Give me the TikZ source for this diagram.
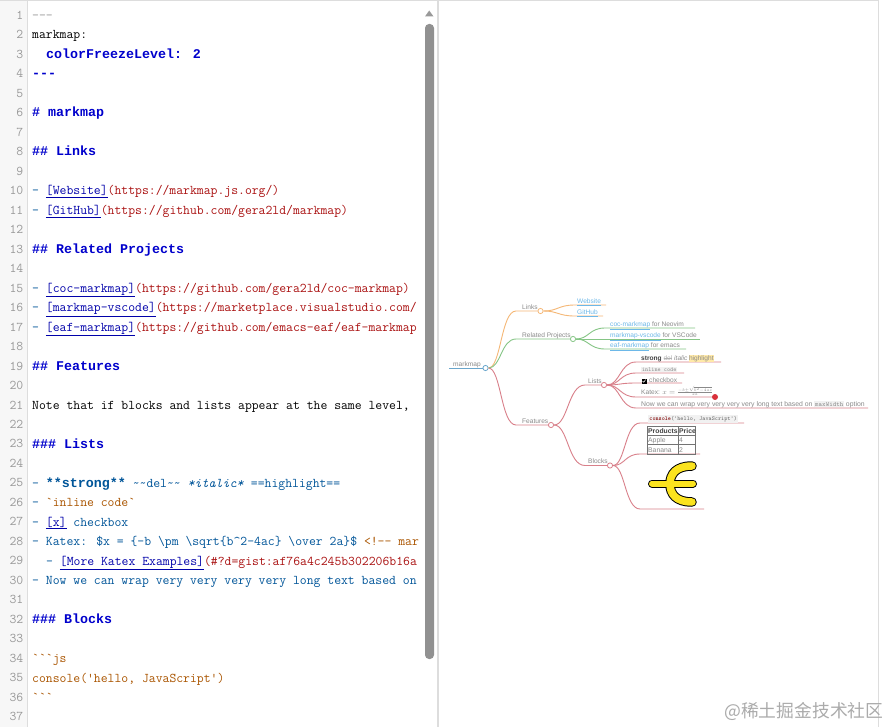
\documentclass[tikz,border=0pt]{standalone}
\usepackage{fontspec}
\usepackage{graphicx}
\setmainfont{Liberation Sans}
\newfontfamily\cjkwm{Noto Sans CJK SC}
\newfontfamily\bdmono{Liberation Mono}
\definecolor{hdr}{HTML}{0000CC}
\definecolor{lnk}{HTML}{0000AA}
\definecolor{url}{HTML}{AA1111}
\definecolor{lst}{HTML}{005599}
\definecolor{cmt}{HTML}{AA5500}
\definecolor{gut}{HTML}{F7F7F7}
\definecolor{bord}{HTML}{DDDDDD}
\definecolor{mmblue}{HTML}{6AA6CC}
\definecolor{mmorange}{HTML}{F5B877}
\definecolor{mmgreen}{HTML}{85C585}
\definecolor{mmred}{HTML}{D9808A}
\definecolor{mmlink}{HTML}{6DB8E8}
\definecolor{mmtext}{HTML}{8A8A8A}
\definecolor{codebg}{HTML}{F1F1F1}
\definecolor{hilite}{HTML}{FFE9A8}
\definecolor{jsyellow}{HTML}{FBE31E}
\definecolor{katred}{HTML}{D9303A}
\newcommand{\rg}{\fontsize{13.33}{14}\selectfont\ttfamily}
\newcommand{\bd}[1]{{\fontsize{13.33}{14}\selectfont\bdmono\bfseries #1}}
\newcommand{\lk}[1]{\textcolor{lnk}{\underline{#1}}}
\newcommand{\ur}[1]{\textcolor{url}{#1}}
\newcommand{\mmc}[1]{\textcolor{mmlink}{\underline{#1}}}
\newcommand{\cod}[2][5.9]{{\setlength{\fboxsep}{0.8pt}\colorbox{codebg}{\fontsize{#1}{6}\selectfont\ttfamily #2}}}
\newlength{\strkw}
\newcommand{\strk}[1]{\settowidth{\strkw}{#1}\rlap{\rule[1.7pt]{\strkw}{0.4pt}}#1}
\tikzset{
  x=1pt,y=-1pt,
  codeline/.style={anchor=base west,inner sep=0pt,font=\rg},
  lineno/.style={anchor=base east,inner sep=0pt,font=\rg,text=black!40},
  mmlabel/.style={anchor=base west,inner sep=0pt,font=\fontsize{6.6}{7}\selectfont,text=mmtext},
  dot/.style={circle,draw,fill=white,inner sep=0pt,minimum size=5.2pt,line width=0.8pt},
  edge/.style={line width=0.9pt},
  tbl/.style={anchor=base west,inner sep=0pt,font=\fontsize{6.8}{7}\selectfont},
}
\newcommand{\cl}[3]{\node[codeline] (c#1) at (32+#2,{15.4+19.49*(#1-1)+4}) {#3};}
\begin{document}
\begin{tikzpicture}
\useasboundingbox (0,0) rectangle (890,727);
\fill[white] (0,0) rectangle (890,727);
% editor chrome
\fill[gut] (0,0) rectangle (27,727);
\draw[bord] (27.5,0) -- (27.5,727);
\draw[bord,line width=1pt] (0,0.5) -- (878,0.5);
\draw[bord,line width=1.4pt] (438,0) -- (438,727);
\draw[bord,line width=0.8pt] (878,0) -- (878,727);
\fill[black!40] (425,16.5) -- (433.5,16.5) -- (429.2,10.5) -- cycle;
\fill[black!43,rounded corners=4pt] (425,24) rectangle (434,659);
% line numbers
\foreach \n in {1,...,37}
  \node[lineno] (ln\n) at (23.5,{15.2+19.49*(\n-1)+4}) {\n};
% code
\cl{1}{0}{\textcolor{black!40}{-{}-{}-}}
\cl{2}{0}{markmap:}
\cl{3}{14}{\textcolor{hdr}{\bd{colorFreezeLevel: 2}}}
\cl{4}{0}{\textcolor{hdr}{\bd{-{}-{}-}}}
\cl{6}{0}{\textcolor{hdr}{\bd{\# markmap}}}
\cl{8}{0}{\textcolor{hdr}{\bd{\#\# Links}}}
\cl{10}{0}{\textcolor{lst}{-} \lk{[Website]}\ur{(https://markmap.js.org/)}}
\cl{11}{0}{\textcolor{lst}{-} \lk{[GitHub]}\ur{(https://github.com/gera2ld/markmap)}}
\cl{13}{0}{\textcolor{hdr}{\bd{\#\# Related Projects}}}
\cl{15}{0}{\textcolor{lst}{-} \lk{[coc-markmap]}\ur{(https://github.com/gera2ld/coc-markmap)}}
\cl{16}{0}{\textcolor{lst}{-} \lk{[markmap-vscode]}\ur{(https://marketplace.visualstudio.com/}}
\cl{17}{0}{\textcolor{lst}{-} \lk{[eaf-markmap]}\ur{(https://github.com/emacs-eaf/eaf-markmap}}
\cl{19}{0}{\textcolor{hdr}{\bd{\#\# Features}}}
\cl{21}{0}{Note that if blocks and lists appear at the same level,}
\cl{23}{0}{\textcolor{hdr}{\bd{\#\#\# Lists}}}
\cl{25}{0}{\textcolor{lst}{- \bd{**strong**} \textasciitilde{}\textasciitilde{}del\textasciitilde{}\textasciitilde{} \textit{*italic*} ==highlight==}}
\cl{26}{0}{\textcolor{lst}{-} \textcolor{cmt}{\textasciigrave{}inline code\textasciigrave{}}}
\cl{27}{0}{\textcolor{lst}{-} \lk{[x]} \textcolor{lst}{checkbox}}
\cl{28}{0}{\textcolor{lst}{- Katex: \$x = \{-b \textbackslash{}pm \textbackslash{}sqrt\{b\textasciicircum{}2-4ac\} \textbackslash{}over 2a\}\$} \textcolor{cmt}{<!-{}- mar}}
\cl{29}{14}{\textcolor{lst}{-} \lk{[More Katex Examples]}\ur{(\#?d=gist:af76a4c245b302206b16a}}
\cl{30}{0}{\textcolor{lst}{- Now we can wrap very very very very long text based on}}
\cl{32}{0}{\textcolor{hdr}{\bd{\#\#\# Blocks}}}
\cl{34}{0}{\textcolor{cmt}{\textasciigrave{}\textasciigrave{}\textasciigrave{}js}}
\cl{35}{0}{\textcolor{cmt}{console(\textquotesingle{}hello, JavaScript\textquotesingle{})}}
\cl{36}{0}{\textcolor{cmt}{\textasciigrave{}\textasciigrave{}\textasciigrave{}}}
% mindmap: dots
\node[dot,draw=mmblue] (root) at (485.5,368) {};
\node[dot,draw=mmorange] (links) at (540.5,311) {};
\node[dot,draw=mmgreen] (rel) at (573,339) {};
\node[dot,draw=mmred] (feat) at (551,425) {};
\node[dot,draw=mmred] (lists) at (604,385) {};
\node[dot,draw=mmred] (blocks) at (610,465.5) {};
% mindmap: free ends
\coordinate (rootS) at (449,368);
\coordinate (linksS) at (516,311);
\coordinate (relS) at (516,339);
\coordinate (featS) at (516,425);
\coordinate (listsS) at (585,385);
\coordinate (blocksS) at (585,465.5);
\foreach \nm/\sx/\ex/\yy in {web/575/606/305,git/575/603/316,coc/605/695/328,vsc/605/700/339,eaf/605/686/349,
  strg/636/721/362,inl/636/684/373,chk/636/682/383,kat/636/713/397,now/636/868/408,
  con/640/744/423,tab/640/700/454,img/640/704/509}{
  \coordinate (\nm S) at (\sx,\yy);
  \coordinate (\nm E) at (\ex,\yy);
}
\begin{scope}[edge]
\draw[mmblue] (rootS) -- (root);
\draw[mmorange] (root) .. controls (501,368) and (501,311) .. (linksS) -- (links);
\draw[mmgreen] (root) .. controls (501,368) and (501,339) .. (relS) -- (rel);
\draw[mmred] (root) .. controls (501,368) and (501,425) .. (featS) -- (feat);
\draw[mmred] (feat) .. controls (568,425) and (568,385) .. (listsS) -- (lists);
\draw[mmred] (feat) .. controls (568,425) and (568,465.5) .. (blocksS) -- (blocks);
\draw[mmorange] (links) .. controls (558,311) and (558,305) .. (webS) -- (webE);
\draw[mmorange] (links) .. controls (558,311) and (558,316) .. (gitS) -- (gitE);
\draw[mmgreen] (rel) .. controls (589,339) and (589,328) .. (cocS) -- (cocE);
\draw[mmgreen] (rel) -- (vscE);
\draw[mmgreen] (rel) .. controls (589,339) and (589,349) .. (eafS) -- (eafE);
\draw[mmred] (lists) .. controls (620,385) and (620,362) .. (strgS) -- (strgE);
\draw[mmred] (lists) .. controls (620,385) and (620,373) .. (inlS) -- (inlE);
\draw[mmred] (lists) .. controls (620,385) and (620,383) .. (chkS) -- (chkE);
\draw[mmred] (lists) .. controls (620,385) and (620,397) .. (katS) -- (katE);
\draw[mmred] (lists) .. controls (620,385) and (620,408) .. (nowS) -- (nowE);
\draw[mmred] (blocks) .. controls (625,465.5) and (625,423) .. (conS) -- (conE);
\draw[mmred] (blocks) .. controls (625,465.5) and (625,454) .. (tabS) -- (tabE);
\draw[mmred] (blocks) .. controls (625,465.5) and (625,509) .. (imgS) -- (imgE);
\end{scope}
\node[circle,fill=katred,inner sep=0pt,minimum size=6pt] (katdot) at (715,397) {};
% mindmap: labels
\node[mmlabel] (tRoot) at (453,366.5) {markmap};
\node[mmlabel] (tLinks) at (522,309.5) {Links};
\node[mmlabel] (tRel) at (522,337.5) {Related Projects};
\node[mmlabel] (tFeat) at (522,423.5) {Features};
\node[mmlabel] (tLists) at (588,383.5) {Lists};
\node[mmlabel] (tBlocks) at (588,463.5) {Blocks};
\node[mmlabel] (tWeb) at (577,303.5) {\mmc{Website}};
\node[mmlabel] (tGit) at (577,314.5) {\mmc{GitHub}};
\node[mmlabel] (tCoc) at (610,326.5) {\mmc{coc-markmap} for Neovim};
\node[mmlabel] (tVsc) at (610,337.5) {\mmc{markmap-vscode} for VSCode};
\node[mmlabel] (tEaf) at (610,347.5) {\mmc{eaf-markmap} for emacs};
\node[mmlabel] (tStrong) at (641,360) {\textcolor{black!75}{\textbf{strong}} \textcolor{black!30}{\strk{del}} \textit{italic}\,{\setlength{\fboxsep}{0.5pt}\colorbox{hilite}{highlight}}};
\node[mmlabel] (tInl) at (641,371) {\cod{inline code}};
\node[mmlabel] (tChk) at (649,382) {checkbox};
\fill[black] (641.5,378.5) rectangle (646.5,383.5);
\draw[white,line width=0.5pt] (642.6,381) -- (643.7,382.3) -- (645.6,379.6);
\node[mmlabel] (tKat) at (641,394) {Katex: $x =$ \scalebox{0.78}{$-b \pm \sqrt{b^2-4ac} \over 2a$}};
\node[mmlabel,font=\fontsize{6.85}{7}\selectfont] (tNow) at (641,406) {Now we can wrap very very very very long text based on \cod[6.6]{maxWidth} option};
\node[anchor=base west,inner sep=0pt] (tCon) at (648,420.5) {{\setlength{\fboxsep}{1.2pt}\colorbox{codebg}{\fontsize{5.9}{6}\selectfont\ttfamily\textcolor{red!50!black}{\textbf{console}}\textcolor{black!60}{(\textquotesingle{}hello, JavaScript\textquotesingle{})}}}};
% table
\draw[black!55,line width=0.6pt] (647,426) rectangle (695,454);
\foreach \yy in {435,444.5} \draw[black!55,line width=0.6pt] (647,\yy) -- (695,\yy);
\draw[black!55,line width=0.6pt] (678,426) -- (678,454);
\node[tbl,text=black!75,font=\fontsize{6.8}{7}\selectfont\bfseries] (t11) at (648,433) {Products};
\node[tbl,text=black!75,font=\fontsize{6.8}{7}\selectfont\bfseries] (t12) at (679,433) {Price};
\node[tbl,text=mmtext] (t21) at (648,442.5) {Apple};
\node[tbl,text=mmtext] (t22) at (679,442.5) {4};
\node[tbl,text=mmtext] (t31) at (648,452) {Banana};
\node[tbl,text=mmtext] (t32) at (679,452) {2};
% logo
\begin{scope}[line cap=round]
\draw[black,line width=9.5pt] (692,466) .. controls (676,466) and (670,474) .. (670,484) .. controls (670,494) and (676,502) .. (692,502);
\draw[black,line width=8pt] (652,483.5) -- (693,483.5);
\draw[jsyellow,line width=7.5pt] (692,466) .. controls (676,466) and (670,474) .. (670,484) .. controls (670,494) and (676,502) .. (692,502);
\draw[jsyellow,line width=6pt] (652,483.5) -- (693,483.5);
\end{scope}
% watermark
\node[anchor=base west,inner sep=0pt,text=black!33,font=\cjkwm\fontsize{17.8}{18}\selectfont] (wm) at (724,717.5) {@稀土掘金技术社区};
\end{tikzpicture}
\end{document}
